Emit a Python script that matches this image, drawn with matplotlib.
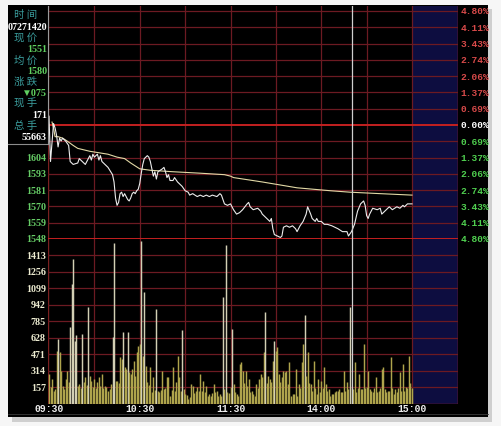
import matplotlib
matplotlib.use('Agg')
import matplotlib.pyplot as plt
from matplotlib.patches import Rectangle
from matplotlib.lines import Line2D

# ---------------- data ----------------
PRE_CLOSE = 1626

price_min = [0, 1, 2, 3, 4, 5, 6, 7, 8, 9, 11, 13, 14, 16, 19, 20, 22, 24, 25, 27, 28, 29, 30, 32, 33,
             34, 35, 37, 39, 42, 43, 44, 45, 46, 47, 48, 49, 50, 52, 53, 54, 55, 56, 57, 58, 59, 60,
             61, 62, 63, 65, 66, 67, 69, 70, 71, 72, 75, 76, 77, 78, 79, 80, 82, 83, 85, 86, 88, 90,
             92, 93, 95, 98, 100, 102, 104, 106, 108, 111, 113, 114, 116, 118, 120, 122, 124, 126,
             128, 131, 132, 133, 135, 138, 140, 141, 144, 146, 147, 148, 149, 151, 153, 154, 155,
             157, 159, 161, 163, 164, 166, 168, 170, 171, 173, 174, 176, 177, 178, 180, 182, 184,
             187, 189, 191, 194, 197, 198, 200, 202, 204, 206, 208, 209, 210, 211, 212, 214, 217,
             219, 220, 221, 223, 225, 227, 230, 232, 234, 235, 237, 239, 240]
price_val = [1632, 1601, 1614, 1627, 1624, 1619, 1611, 1617, 1615, 1617, 1615, 1612, 1601, 1599, 1600,
             1603, 1601, 1599, 1601, 1605, 1602, 1606, 1604, 1606, 1602, 1605, 1601, 1599, 1597, 1592,
             1587, 1576, 1571, 1573, 1579, 1580, 1577, 1579, 1575, 1574, 1576, 1579, 1580, 1579, 1581,
             1582, 1586, 1593, 1599, 1603, 1605, 1604, 1601, 1591, 1594, 1589, 1594, 1596, 1597, 1594,
             1590, 1592, 1588, 1588, 1590, 1587, 1586, 1584, 1581, 1580, 1578, 1579, 1577, 1578, 1577,
             1578, 1577, 1578, 1577, 1579, 1578, 1572, 1571, 1572, 1568, 1565, 1566, 1568, 1572, 1573,
             1570, 1568, 1569, 1567, 1565, 1562, 1560, 1562, 1555, 1551, 1550, 1549, 1550, 1556, 1557,
             1556, 1557, 1555, 1553, 1557, 1560, 1565, 1570, 1565, 1562, 1560, 1562, 1560, 1560, 1558,
             1558, 1557, 1556, 1555, 1553, 1553, 1550, 1553, 1558, 1567, 1572, 1574, 1571, 1564, 1562,
             1565, 1569, 1568, 1569, 1565, 1566, 1568, 1570, 1568, 1570, 1569, 1571, 1570, 1572, 1572,
             1572]

avg_min = [2, 3, 4, 6, 9, 12, 16, 19, 27, 39, 45, 50, 54, 60, 67, 82, 100, 116, 120, 122, 141, 164,
           186, 199, 219, 240]
avg_val = [1628, 1624, 1618, 1618, 1617, 1615, 1612, 1610, 1608, 1606, 1604, 1603, 1600, 1596, 1595,
           1594, 1593, 1592, 1591, 1590, 1587, 1583, 1581, 1580, 1579, 1578]

volume = [282, 160, 234, 120, 139, 505, 617, 493, 314, 170, 140, 234, 314, 205, 732, 1145, 1383, 601,
          649, 170, 187, 150, 665, 203, 251, 180, 921, 266, 218, 160, 234, 150, 203, 254, 170, 282,
          150, 170, 158, 120, 139, 187, 634, 1536, 218, 218, 200, 445, 426, 682, 349, 330, 684, 300,
          282, 330, 410, 266, 493, 553, 570, 1550, 458, 1065, 362, 205, 180, 349, 110, 254, 130, 905,
          120, 110, 130, 314, 139, 150, 254, 251,
          75, 130, 347, 123, 203, 458, 254, 123, 697, 139, 91, 80, 43, 59, 187, 170, 100, 123, 158,
          123, 282, 120, 218, 107, 170, 75, 90, 75, 100, 187, 107, 123, 75, 90, 75, 1017, 139, 1510,
          110, 100, 158, 713, 187, 107, 90, 75, 378, 394, 314, 200, 314, 170, 234, 107, 123, 90, 75,
          187, 150, 234, 282, 251, 490, 873, 200, 266, 234, 203, 410, 601, 505, 538, 282, 203, 250,
          314, 298, 314, 187, 394,
          75, 90, 91, 330, 75, 187, 150, 394, 570, 841, 266, 490, 200, 187, 123, 410, 150, 91, 234,
          107, 218, 150, 347, 187, 120, 139, 75, 90, 91, 107, 123, 123, 139, 110, 107, 314, 123, 203,
          139, 921, 150, 139, 394, 110, 150, 282, 139, 139, 570, 150, 158, 314, 139, 120, 107, 150,
          251, 107, 123, 150, 330, 347, 139, 107, 120, 123, 442, 150, 91, 139, 107, 150, 298, 123,
          378, 123, 158, 150, 458, 200, 150]

pct_levels = [4.80, 4.11, 3.43, 2.74, 2.06, 1.37, 0.69, 0.00, -0.69, -1.37, -2.06, -2.74, -3.43,
              -4.11, -4.80]
pct_labels = ['4.80%', '4.11%', '3.43%', '2.74%', '2.06%', '1.37%', '0.69%', '0.00%', '0.69%',
              '1.37%', '2.06%', '2.74%', '3.43%', '4.11%', '4.80%']
left_price_labels = ['1604', '1593', '1581', '1570', '1559', '1548']
vol_ticks = [157, 314, 471, 628, 785, 942, 1099, 1256, 1413]
time_ticks = [0, 60, 120, 180, 240]
time_labels = ['09:30', '10:30', '11:30', '14:00', '15:00']
cursor_min = 200

info_keys = ['时 间', '现 价', '均 价', '涨 跌', '现 手', '总 手']
info_vals = ['07271420', '1551', '1580', '▼075', '171', '55663']
info_val_colors = ['#ffffff', '#60d060', '#60d060', '#60d060', '#ffffff', '#ffffff']

# ---------------- layout helpers ----------------
W, H = 501, 427
fig = plt.figure(figsize=(W / 100, H / 100), dpi=100)
fig.patch.set_facecolor('#f6f6f6')


def fbox(x0, y0, x1, y1):
    return [x0 / W, 1 - y1 / H, (x1 - x0) / W, (y1 - y0) / H]


def fp(x, y):
    return (x / W, 1 - y / H)


# shadow + black panel
fig.add_artist(Rectangle(fp(12, 423), 480 / W, 413 / H, transform=fig.transFigure,
                         facecolor='#cfcfcf', edgecolor='none', zorder=0))
fig.add_artist(Rectangle(fp(8, 418), 480 / W, 412 / H, transform=fig.transFigure,
                         facecolor='#000000', edgecolor='none', zorder=0))

PX_PER_MIN = 1.5125
XMIN = (48 - 49) / PX_PER_MIN
XMAX = (458 - 49) / PX_PER_MIN

GRID = '#6c1a22'
BRIGHT = '#c42020'

# price axes: 0% at y=126, -4.8% at y=240 (114 px per 4.8%)
pct_per_px = 4.8 / 114
top_pct = (126 - 7) * pct_per_px
ax_p = fig.add_axes(fbox(48, 7, 458, 240))
ax_p.set_xlim(XMIN, XMAX)
ax_p.set_ylim(PRE_CLOSE * (1 - 0.048), PRE_CLOSE * (1 + top_pct / 100))

ax_v = fig.add_axes(fbox(48, 240, 458, 404.5))
ax_v.set_xlim(XMIN, XMAX)
ax_v.set_ylim(0, 1570)

for ax in (ax_p, ax_v):
    ax.set_facecolor('black')
    ax.axvspan(240, XMAX, color='#0d0d40', zorder=0, lw=0)
    for s in ax.spines.values():
        s.set_visible(False)
    ax.set_xticks([])
    ax.set_yticks([])
    for m in range(30, 241, 30):
        ax.axvline(m, color=GRID, lw=0.9, zorder=1)
    ax.axvline(XMIN, color='#7a2020', lw=1.0, zorder=1)
    ax.axvline(XMAX - 0.3, color=BRIGHT, lw=1.0, zorder=1)

for p in pct_levels:
    y = PRE_CLOSE * (1 + p / 100)
    if p == 0 or p == -4.80:
        ax_p.axhline(y, color=BRIGHT, lw=1.4, zorder=1)
    else:
        ax_p.axhline(y, color=GRID, lw=0.9, zorder=1)

for v in vol_ticks:
    ax_v.axhline(v, color=GRID, lw=0.9, zorder=1)
ax_v.axhline(0, color='#9a1c1c', lw=1.0, zorder=1)

# volume bars: tall isolated spikes look pale, dense low ones olive
bar_cols = ['#d2cfb4' if v > 600 else '#aea44c' for v in volume]
ax_v.vlines(range(len(volume)), 0, volume, colors=bar_cols, lw=1.05, zorder=2)

# price + average lines
ax_p.plot(avg_min, avg_val, color='#e2d9a6', lw=0.8, zorder=3)
ax_p.plot(price_min, price_val, color='#ececec', lw=0.8, zorder=4)

# cursor
for ax in (ax_p, ax_v):
    ax.axvline(cursor_min, color='#cfcfcf', lw=0.9, zorder=5)

# right percent labels
for p, lab in zip(pct_levels, pct_labels):
    y = PRE_CLOSE * (1 + p / 100)
    col = '#d84a4a' if p > 0 else ('#ffffff' if p == 0 else '#50d050')
    ax_p.text(1.006, y, lab, transform=ax_p.get_yaxis_transform(), ha='left', va='center',
              fontsize=6.8, color=col, family='Liberation Mono', fontweight='bold', clip_on=False)

# left price labels (lower half)
for p, lab in zip(pct_levels[9:], left_price_labels):
    y = PRE_CLOSE * (1 + p / 100)
    ax_p.text(-0.005, y, lab, transform=ax_p.get_yaxis_transform(), ha='right', va='center',
              fontsize=7.2, color='#66cc66', family='Liberation Serif', fontweight='bold',
              clip_on=False)

# volume labels
for v in vol_ticks:
    ax_v.text(-0.005, v, str(v), transform=ax_v.get_yaxis_transform(), ha='right', va='center',
              fontsize=7.2, color='#ecebd0', family='Liberation Serif', fontweight='bold',
              clip_on=False)

# time labels
for t, lab in zip(time_ticks, time_labels):
    ax_v.text(t, -0.03, lab, transform=ax_v.get_xaxis_transform(), ha='center', va='center',
              fontsize=7, color='#eeeeee', family='Liberation Mono', fontweight='bold',
              clip_on=False)

# info panel
fig.add_artist(Rectangle(fp(8, 145), 40 / W, 138 / H, transform=fig.transFigure,
                         facecolor='black', edgecolor='none', zorder=10))
fig.add_artist(Line2D([8 / W, 48 / W], [1 - 145 / H, 1 - 145 / H], transform=fig.transFigure,
                      color='#8c8c8c', lw=0.8, zorder=11))
fig.add_artist(Line2D([48 / W, 48 / W], [1 - 7 / H, 1 - 145 / H], transform=fig.transFigure,
                      color='#9a9a9a', lw=0.8, zorder=11))

key_y = [15, 38, 61, 82, 104, 126]
val_y = [27, 49, 71, 93, 115, 137]
for k, ky in zip(info_keys, key_y):
    fig.text(*fp(26, ky), k, ha='center', va='center', fontsize=7.5, color='#3a9c9c',
             family=['Noto Sans CJK SC', 'DejaVu Sans'], zorder=12)
for v, vy, c in zip(info_vals, val_y, info_val_colors):
    fig.text(*fp(47, vy), v, ha='right', va='center', fontsize=7.2, color=c,
             family=['Liberation Serif', 'DejaVu Sans'], fontweight='bold', zorder=12)

# faint bottom status strip line
fig.add_artist(Line2D([8 / W, 488 / W], [1 - 415 / H, 1 - 415 / H], transform=fig.transFigure,
                      color='#3a3a3a', lw=0.6, zorder=1))

fig.savefig('out.png', dpi=100, facecolor=fig.get_facecolor())
